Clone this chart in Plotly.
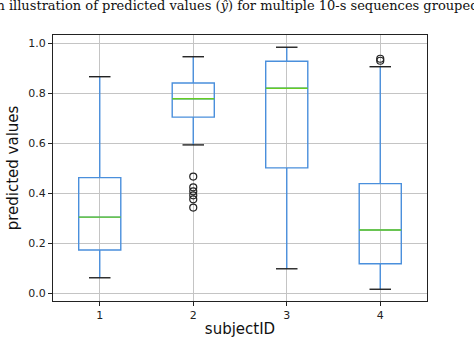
import plotly.graph_objects as go

subjects = [1, 2, 3, 4]
tick_labels = ["1", "2", "3", "4"]
q1 = [0.172, 0.704, 0.501, 0.117]
median = [0.304, 0.778, 0.820, 0.252]
q3 = [0.462, 0.841, 0.928, 0.438]
lower_whisker = [0.061, 0.593, 0.097, 0.015]
upper_whisker = [0.866, 0.946, 0.984, 0.906]
outlier_x = [2, 2, 2, 2, 2, 2, 4, 4]
outlier_y = [0.466, 0.423, 0.407, 0.391, 0.375, 0.342, 0.930, 0.938]

BOX_W = 0.45
CAP_W = 0.23
BLUE = "#4a8fdc"
GREEN = "#66cc22"

fig = go.Figure()
fig.add_trace(go.Box(
    x=subjects, q1=q1, median=median, q3=q3,
    lowerfence=lower_whisker, upperfence=upper_whisker,
    width=BOX_W, whiskerwidth=0,
    line=dict(color=BLUE, width=1.4),
    fillcolor="rgba(0,0,0,0)", boxpoints=False, showlegend=False,
    hoverinfo="skip",
))

# medians (green) and caps (black)
mx, my, cx, cy = [], [], [], []
for s, m, lo, hi in zip(subjects, median, lower_whisker, upper_whisker):
    mx += [s - BOX_W / 2, s + BOX_W / 2, None]
    my += [m, m, None]
    cx += [s - CAP_W / 2, s + CAP_W / 2, None, s - CAP_W / 2, s + CAP_W / 2, None]
    cy += [lo, lo, None, hi, hi, None]
fig.add_trace(go.Scatter(x=mx, y=my, mode="lines", line=dict(color=GREEN, width=1.4),
                         showlegend=False, hoverinfo="skip"))
fig.add_trace(go.Scatter(x=cx, y=cy, mode="lines", line=dict(color="#222222", width=1.4),
                         showlegend=False, hoverinfo="skip"))
fig.add_trace(go.Scatter(x=outlier_x, y=outlier_y, mode="markers",
                         marker=dict(symbol="circle-open", color="#222222", size=7,
                                     line=dict(width=1.2)),
                         showlegend=False, hoverinfo="skip"))

axis_common = dict(
    showgrid=True, gridcolor="#c4c4c4", gridwidth=1,
    showline=True, linecolor="#222222", linewidth=1, mirror=True,
    ticks="outside", ticklen=4, tickcolor="#222222",
    tickfont=dict(family="DejaVu Sans", size=11, color="#222222"),
    zeroline=False,
)
fig.update_xaxes(range=[0.5, 4.5], tickvals=subjects, ticktext=tick_labels,
                 title=dict(text="subjectID", font=dict(family="DejaVu Sans", size=15, color="#111111"),
                            standoff=2),
                 **axis_common)
fig.update_yaxes(range=[-0.032, 1.033], tickvals=[0, 0.2, 0.4, 0.6, 0.8, 1.0], tickformat=".1f",
                 title=dict(text="predicted values", font=dict(family="DejaVu Sans", size=15, color="#111111"),
                            standoff=6),
                 **axis_common)

fig.add_annotation(
    text="An illustration of predicted values (<i>ŷ</i>) for multiple 10-s sequences grouped by subject",
    xref="paper", yref="paper", x=-0.1844, y=1.0735, xanchor="left", yanchor="bottom",
    showarrow=False, font=dict(family="DejaVu Serif", size=13, color="#111111"),
)

fig.update_layout(
    width=474, height=355,
    margin=dict(l=48, r=47, t=35, b=54),
    paper_bgcolor="white", plot_bgcolor="white",
)
fig.write_html("out.html")
